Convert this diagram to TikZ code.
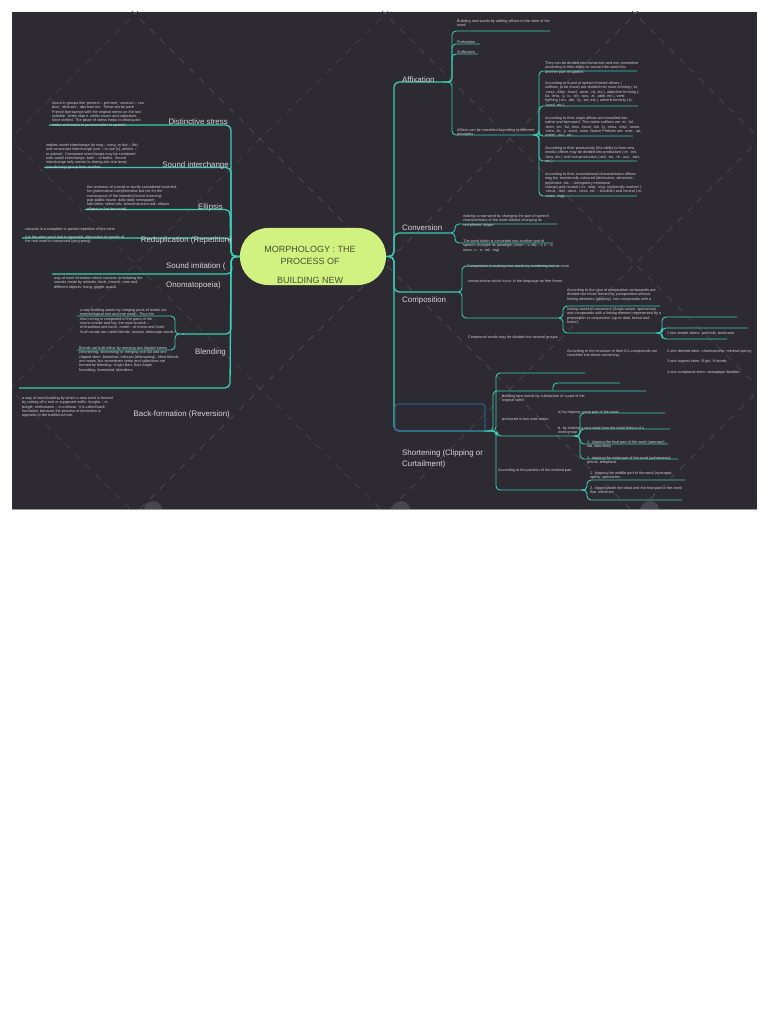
\documentclass[tikz,border=0pt]{standalone}
\usepackage{fontspec}
\setmainfont{Liberation Sans}
\definecolor{panel}{RGB}{45,42,49}
\definecolor{teal1}{RGB}{60,204,184}
\definecolor{gridc}{RGB}{78,76,84}
\definecolor{desctext}{RGB}{205,205,208}
\definecolor{labtext}{RGB}{215,215,218}
\definecolor{lime}{RGB}{209,241,128}
\definecolor{roottext}{RGB}{72,80,52}
\definecolor{blueframe}{RGB}{44,92,130}
\definecolor{dotc}{RGB}{72,70,78}
\definecolor{edgec}{RGB}{150,150,152}
\tikzset{
  desc/.style={anchor=north west, inner sep=0pt, align=left, text=desctext, font=\fontsize{3.8}{4.4}\selectfont},
  labl/.style={inner sep=0pt, text=labtext, font=\fontsize{7.9}{9}\selectfont},
  rtxt/.style={inner sep=0pt, anchor=base, text=roottext, font=\fontsize{9}{11}\selectfont},
  br/.style={draw=teal1, line width=1.3pt, rounded corners=5pt},
  sb/.style={draw=teal1, line width=0.9pt, rounded corners=4pt},
  gridline/.style={draw=gridc, line width=0.7pt, dash pattern=on 7pt off 7pt},
}
\begin{document}
\begin{tikzpicture}[x=1pt,y=-1pt]
\path[use as bounding box] (0,0) rectangle (768,1024);
\fill[white] (0,0) rectangle (768,1024);
\fill[panel] (12,12) rectangle (757,509);
% background lattice
\begin{scope}
\clip (12,12) rectangle (757,509);
\foreach \c in {-379,-129,121,371,621} {\draw[gridline] (\c-100,-100) -- (\c+700,700);}
\foreach \c in {149,399,649,899,1149} {\draw[gridline] (\c+100,-100) -- (\c-700,700);}
\foreach \px in {153,401,650} {\fill[dotc] (\px,510) circle (9);}
\end{scope}
\draw[edgec, line width=1.2pt] (12,509.5) -- (757,509.5);

% root
\node[fill=lime, rounded corners=28pt, minimum width=146pt, minimum height=57pt, inner sep=0pt] (root) at (313,256.5) {};
\node[rtxt] (rt1) at (310,252.5) {MORPHOLOGY : THE};
\node[rtxt] (rt2) at (310,264.5) {PROCESS OF};
\node[rtxt] (rt3) at (310,283.5) {BUILDING NEW};

% left branches
\coordinate (lt) at (231,256.5);
\draw[br] (root.west) -- (lt) -- (231,125) -- (49,125);
\draw[br] (root.west) -- (lt) -- (231,167.5) -- (44,167.5);
\draw[br] (root.west) -- (lt) -- (230,209.5) -- (85,209.5);
\draw[br] (root.west) -- (lt) -- (231,238) -- (22,238);
\draw[br] (root.west) -- (lt) -- (232,274) -- (52,274);
\draw[br] (root.west) -- (lt) -- (231,334) -- (182,334);
\draw[br] (root.west) -- (lt) -- (230,388) -- (19,388);
\coordinate (blf) at (184,334);
\draw[sb] (blf) -- (175,334) -- (175,316) -- (77,316);
\draw[sb] (blf) -- (175,334) -- (175,350) -- (77,350);

% right branches
\coordinate (rt) at (394,256.5);
\draw[br] (root.east) -- (rt) -- (394,82) -- (443,82);
\draw[br] (root.east) -- (rt) -- (394,233) -- (446,233);
\draw[br] (root.east) -- (rt) -- (394,292) -- (455,292);
\draw[br] (root.east) -- (rt) -- (394,431) -- (486,431);

% affixation subs
\coordinate (aff) at (443,82);
\draw[sb] (aff) -- (452,82) -- (452,31) -- (550,31);
\draw[sb] (aff) -- (452,82) -- (452,44) -- (480,44);
\draw[sb] (aff) -- (452,82) -- (452,54) -- (478,54);
\draw[sb] (aff) -- (452,82) -- (452,135) -- (537,135);
\coordinate (aff2) at (536,135);
\draw[sb] (aff2) -- (539,135) -- (539,71) -- (637,71);
\draw[sb] (aff2) -- (539,135) -- (539,106) -- (638,106);
\draw[sb] (aff2) -- (539,135) -- (539,136) -- (633,136);
\draw[sb] (aff2) -- (539,135) -- (539,161) -- (637,161);
\draw[sb] (aff2) -- (539,135) -- (539,196) -- (637,196);

% conversion subs
\coordinate (cvf) at (446,233);
\draw[sb] (cvf) -- (455,233) -- (455,224) -- (557,224);
\draw[sb] (cvf) -- (455,233) -- (455,243) -- (553,243);

% composition subs
\coordinate (cpf) at (455,292);
\draw[sb] (cpf) -- (462,292) -- (462,266) -- (560,266);
\draw[sb] (cpf) -- (462,292) -- (462,318) -- (560,318);
\coordinate (cpf2) at (559,318);
\draw[sb] (cpf2) -- (563,318) -- (563,306) -- (660,306);
\draw[sb] (cpf2) -- (563,318) -- (563,333) -- (660,333);
\coordinate (cpf3) at (659,333);
\draw[sb] (cpf3) -- (662,333) -- (662,317) -- (737,317);
\draw[sb] (cpf3) -- (662,333) -- (662,328) -- (748,328);
\draw[sb] (cpf3) -- (662,333) -- (662,339) -- (727,339);

% shortening
\draw[blueframe, line width=1.2pt, rounded corners=3pt] (395,404) rectangle (485,431);
\coordinate (shf) at (486,431);
\draw[sb] (shf) -- (496,431) -- (496,373) -- (585,373);
\draw[sb] (shf) -- (493,431) -- (493,391) -- (646,391);
\draw[sb] (553,391) -- (553,383) -- (620,383);
\draw[sb] (shf) -- (497,431) -- (497,436) -- (579,436);
\coordinate (shf2) at (578,436);
\draw[sb] (shf2) -- (580,436) -- (580,413) -- (665,413);
\draw[sb] (shf2) -- (580,436) -- (580,429) -- (670,429);
\draw[sb] (shf2) -- (580,436) -- (580,444) -- (668,444);
\draw[sb] (shf2) -- (580,436) -- (580,459) -- (678,459);
\draw[sb] (shf) -- (496,431) -- (496,490) -- (586,490);
\coordinate (shf3) at (585,490);
\draw[sb] (shf3) -- (587,490) -- (587,480) -- (685,480);
\draw[sb] (shf3) -- (587,490) -- (587,500) -- (682,500);

% labels
\node[labl, anchor=base east] (l1) at (228,125) {Distinctive stress};
\node[labl, anchor=base east] (l2) at (229,168) {Sound interchange};
\node[labl, anchor=base east] (l3) at (223,210) {Ellipsis};
\node[labl, anchor=base east] (l4) at (232,243) {Reduplication (Repetition)};
\node[labl, anchor=base west] (l5) at (166,268) {Sound imitation (};
\node[labl, anchor=base west] (l5b) at (166,287) {Onomatopoeia)};
\node[labl, anchor=base east] (l6) at (226,354) {Blending};
\node[labl, anchor=base east] (l7) at (230,416) {Back-formation (Reversion)};
\node[labl, anchor=base west] (r1) at (402,83) {Affixation};
\node[labl, anchor=base west] (r2) at (402,230) {Conversion};
\node[labl, anchor=base west] (r3) at (402,302) {Composition};
\node[labl, anchor=base west] (r4) at (402,455) {Shortening (Clipping or};
\node[labl, anchor=base west] (r4b) at (402,466) {Curtailment)};

% left descriptions
\node[desc] (dds) at (52,101.4) {found in groups like ‘present – pre’sent, ‘conduct – con’\\duct, ‘abstract – abs’tract etc. These words were\\French borrowings with the original stress on the last\\syllable. Verbs kept it, whilst nouns and adjectives\\have shifted. The place of stress helps to distinguish\\verbs and nouns in pronunciation in speech.};
\node[desc] (dsi) at (46,143.4) {implies vowel interchange (to sing – song, to live – life)\\and consonant interchange (use – to use [z], advice –\\to advise). Consonant interchange may be combined\\with vowel interchange: bath – to bathe. Sound\\interchange only serves to distinguish one lexey\\(vocabulary) group from another.};
\node[desc] (del) at (87,185.4) {the omission of a word or words considered essential\\for grammatical completeness but not for the\\conveyance of the intended lexical meaning:\\pub-public house, daily-daily newspaper,\\talk-talkie, talkie-talk, substantivation talk, ellipsis\\ellipsis in the last word).};
\node[desc] (drd1) at (25,227.4) {consists in a complete or partial repetition of the stem};
\node[desc] (drd2) at (25,235.4) {it is the stem word that is repeated, alternation of vowels of\\the root word in compound (ping-pong)};
\node[desc] (dso) at (54,276.4) {way of word formation which consists in imitating the\\sounds made by animals, birds, insects, men and\\different objects: bang, giggle, quack.};
\node[desc] (dbl1) at (80,308.4) {a way building words by merging parts of words (as\\morphological one and one word). Thus the\\noun smog is composed of the parts of the\\nouns smoke and fog; the noun brunch –\\of breakfast and lunch, motel – of motor and hotel.\\Such words are called blends, fusions, telescope words.};
\node[desc] (dbl2) at (79,346.4) {Blends are built either by merging two clipped stems\\(shortening, shortening) or merging one full and one\\clipped stem: breakfast, telecast (telecasting). Most blends\\are nouns, but sometimes verbs and adjectives are\\formed by blending: Anglo-Bart, Bart-Anglo\\forstalling, burnished, blendkins.};
\node[desc] (dbf) at (22,396.4) {a way of word building by which a new word is formed\\by cutting off a real or supposed suffix: burglar – to\\burgle, enthusiasm – to enthuse. It is called back-\\formation, because the process of derivation is\\opposite to the traditional one.};

% right descriptions
\node[desc] (da1) at (457,19.4) {Building new words by adding affixes to the stem of the\\word.};
\node[desc] (da2) at (457,40.4) {Prefixation};
\node[desc] (da3) at (457,50.4) {Suffixation};
\node[desc] (da4) at (457,128.4) {Affixes can be classified according to different\\principles};
\node[desc] (dxa) at (545,61.4) {They can be divided into convertive and non-convertive\\according to their ability to convert the word into\\another part of speech.};
\node[desc] (dxb) at (545,81.4) {According to a part of speech formed affixes (\\suffixes, to be exact) are divided into noun-forming (-er,\\-ness, -ship, -hood, -ance, -ist, etc.), adjective-forming (-\\ful, -less, -y, -ic, -ish, -ous, -al, -able, etc.), verb-\\forming (-en, -ate, -fy, -ize, etc.), adverb-forming (-ly,\\-ward, etc.).};
\node[desc] (dxc) at (545,116.4) {According to their origin affixes are classified into\\native and borrowed. The native suffixes are -er, -ful,\\-dom, -en, -ful, -less, -hood, -ish, -ly, -ness, -ship, -some,\\-teen, -th, -y, -ward, -wise. Native Prefixes are: over-, up-,\\under-, out-, un-.};
\node[desc] (dxd) at (545,146.4) {According to their productivity (the ability to form new\\words) affixes may be divided into productive (-er, -ish,\\-less, etc.) and non-productive (-ard, -en, -th, -ous, -ster,\\etc.).};
\node[desc] (dxe) at (545,172.4) {According to their connotational characteristics affixes\\may be: emotionally coloured (diminutive, derivative,\\pejorative, etc. – derogatory emotional\\charge) and neutral (-er, -ship, -ing), stylistically marked (\\-ulous, -ical, -ance, -ness, etc. – bookish) and neutral (-er,\\-ness, -ing).};
\node[desc] (dc1) at (463,214.4) {making a new word by changing the part of speech\\characteristics of the word without changing its\\morphemic shape};
\node[desc] (dc2) at (463,239.4) {The word which is converted into another part of\\speech changes its paradigm (noun – v, adj – v, it – v,\\noun, v – n, -ed, -ing)};
\node[desc] (dp1) at (467,264.4) {Composition is making new words by combining two or more};
\node[desc] (dp2) at (468,279.4) {constructions which occur in the language as free forms.};
\node[desc] (dp3) at (567,288.4) {According to the type of composition compounds are\\divided into those formed by juxtaposition without\\linking elements (playboy), into compounds with a};
\node[desc] (dp4) at (567,307.4) {linking vowel or consonant (Anglo-saxon, sportsman)\\and compounds with a linking element represented by a\\preposition or conjunction (up-to-date, bread and\\butter).};
\node[desc] (dp5) at (468,335.4) {Compound words may be divided into several groups.};
\node[desc] (dp6) at (567,349.4) {According to the structure of their ICs compounds are\\classified into those containing:};
\node[desc] (dp7) at (667,331.4) {1 two simple stems: porthole, bookcase;};
\node[desc] (dp8) at (667,349.4) {2 one derived stem: chairmanship, mineral-spring;};
\node[desc] (dp9) at (667,359.4) {3 one clipped stem: B-girl, H-bomb;};
\node[desc] (dp10) at (667,370.4) {4 one compound stem: newspaper-boalder.};
\node[desc] (ds1) at (502,394.4) {building new words by subtraction of a part of the\\original word};
\node[desc] (ds2) at (502,417.4) {produced in two main ways:};
\node[desc] (ds3) at (558,410.4) {a) by clipping some part of the word};
\node[desc] (ds4) at (558,426.4) {b. by making a new word from the initial letters of a\\word group};
\node[desc] (ds5) at (587,440.4) {1. clipping the final part of the word (apocope):\\lab, laboratory};
\node[desc] (ds6) at (587,456.4) {2. clipping the initial part of the word (aphaeresis):\\phone, telephone};
\node[desc] (ds7) at (498,468.4) {According to the position of the omitted part};
\node[desc] (ds8) at (590,471.4) {1. clipping the middle part of the word (syncope):\\specs, spectacles};
\node[desc] (ds9) at (590,486.4) {2. clipping both the initial and the final part of the word:\\flue, influenza};
\end{tikzpicture}
\end{document}
